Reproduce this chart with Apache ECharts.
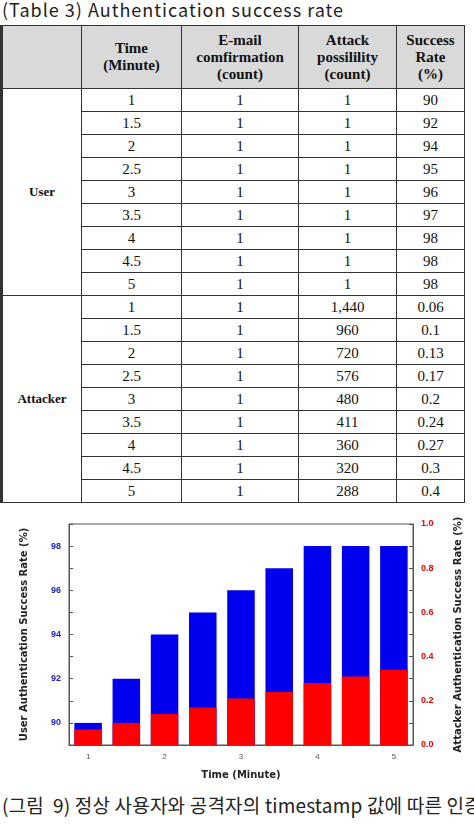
<!DOCTYPE html>
<html><head><meta charset="utf-8">
<script src="https://cdn.jsdelivr.net/npm/echarts@6/dist/echarts.min.js"></script>
<style>
body{margin:0;width:474px;height:827px;background:#fff;position:relative;overflow:hidden;font-family:"Noto Sans CJK KR","Noto Sans",sans-serif}
#title{position:absolute;left:2px;top:-4px;font-size:18px;color:#222;letter-spacing:1px}
table{position:absolute;left:0;top:25px;border-collapse:collapse;font-family:"Liberation Serif",serif;font-size:15px;color:#111}
td{border:1px solid #333;text-align:center;padding:0;height:22px}
tr.hd td{background:#d9d9d9;font-weight:bold;height:62px;line-height:17px}
td.grp{font-weight:bold;font-size:13px}
#chart{position:absolute;left:0;top:510px;width:474px;height:275px}
#cap{position:absolute;left:2px;top:791px;font-size:19px;color:#222;white-space:nowrap;letter-spacing:0.2px}
</style></head>
<body>
<div id="title">(Table 3) Authentication success rate</div>
<table id="tbl"></table>
<div id="chart"></div>
<div id="cap">(그림&nbsp; 9) 정상 사용자와 공격자의 timestamp 값에 따른 인증</div>
<script>
var timeList = ['1','1.5','2','2.5','3','3.5','4','4.5','5'];
var userRate = [90,92,94,95,96,97,98,98,98];
var attackPossibility = ['1,440','960','720','576','480','411','360','320','288'];
var attackerRate = [0.06,0.1,0.13,0.17,0.2,0.24,0.27,0.3,0.4];
var attackerBar = [0.07,0.1,0.14,0.17,0.21,0.24,0.28,0.31,0.34];

// 表格
var html = '<colgroup><col style="width:80px"><col style="width:100px"><col style="width:117px"><col style="width:98px"><col style="width:68px"></colgroup>';
html += '<tr class="hd"><td style="border-left:3px solid #333"></td><td>Time<br>(Minute)</td><td>E-mail<br>comfirmation<br>(count)</td><td>Attack<br>possilility<br>(count)</td><td>Success<br>Rate<br>(%)</td></tr>';
function rows(name, poss, rate){
	var s = '';
	for (var i = 0; i < timeList.length; i++) {
		s += '<tr>';
		if (i == 0) s += '<td class="grp" rowspan="9" style="border-left:3px solid #333">' + name + '</td>';
		s += '<td>' + timeList[i] + '</td><td>1</td><td>' + poss[i] + '</td><td>' + rate[i] + '</td></tr>';
	}
	return s;
}
html += rows('User', timeList.map(function(){return '1';}), userRate);
html += rows('Attacker', attackPossibility, attackerRate);
document.getElementById('tbl').innerHTML = html;

// 图表
var myChart = echarts.init(document.getElementById('chart'));
var option = {
	animation: false,
	grid: {left: 69, right: 61, top: 14, bottom: 37, show: true, borderColor: '#555', borderWidth: 1},
	xAxis: {
		type: 'category',
		data: timeList,
		name: 'Time (Minute)',
		nameLocation: 'middle',
		nameGap: 25,
		nameTextStyle: {fontWeight: 'bold', fontSize: 10, color: '#222', fontFamily: 'DejaVu Sans'},
		axisLine: {lineStyle: {color: '#555'}},
		axisTick: {show: false},
		axisLabel: {color: '#555', fontSize: 8, formatter: function(v){ return v.indexOf('.') == -1 ? v : ''; }, interval: 0}
	},
	yAxis: [
		{
			type: 'value', min: 89, max: 99, interval: 1,
			name: 'User Authentication Success Rate (%)',
			nameLocation: 'middle', nameGap: 40, nameRotate: 90,
			nameTextStyle: {fontWeight: 'bold', fontSize: 10, color: '#222', fontFamily: 'DejaVu Sans'},
			axisLine: {show: true, lineStyle: {color: '#555'}},
			axisTick: {show: true, inside: true, length: 4},
			splitLine: {show: false},
			axisLabel: {color: '#22c', fontWeight: 'bold', fontSize: 9,
				formatter: function(v){ return (v % 2 == 0 && v < 99) ? v : ''; }}
		},
		{
			type: 'value', min: 0, max: 1, interval: 0.1,
			name: 'Attacker Authentication Success Rate (%)',
			nameLocation: 'middle', nameGap: 40, nameRotate: 90,
			nameTextStyle: {fontWeight: 'bold', fontSize: 10, color: '#222', fontFamily: 'DejaVu Sans'},
			axisLine: {show: true, lineStyle: {color: '#555'}},
			axisTick: {show: true, inside: true, length: 4},
			splitLine: {show: false},
			axisLabel: {color: '#e00', fontWeight: 'bold', fontSize: 9,
				formatter: function(v){ var n = Math.round(v * 10); return n % 2 == 0 ? (n / 10).toFixed(1) : ''; }}
		}
	],
	series: [
		{type: 'bar', yAxisIndex: 0, data: userRate, barWidth: '72%', barGap: '-100%', itemStyle: {color: '#0000ee'}},
		{type: 'bar', yAxisIndex: 1, data: attackerBar, barWidth: '72%', barGap: '-100%', itemStyle: {color: '#ff0000'}}
	]
};
myChart.setOption(option);
</script>
</body></html>
